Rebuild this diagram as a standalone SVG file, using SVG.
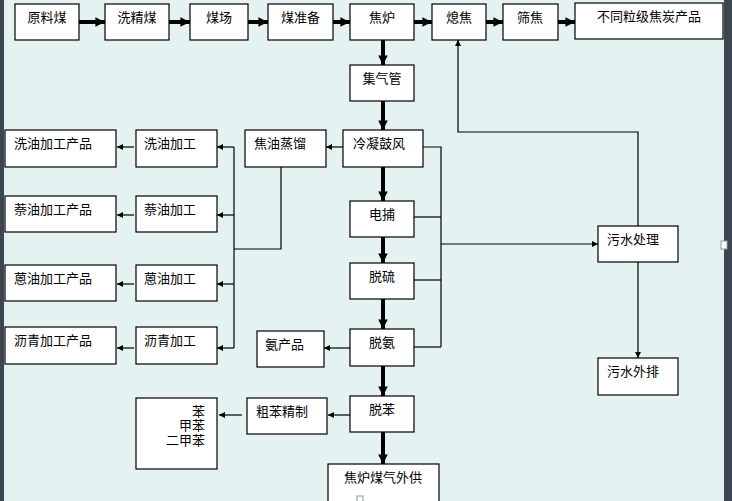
<svg xmlns="http://www.w3.org/2000/svg" width="732" height="501" viewBox="0 0 732 501">
<defs>
<style>
.box{fill:#fff;stroke:#000;stroke-width:1.2}
.t{font-family:"Liberation Sans","Noto Sans CJK SC",sans-serif;font-size:13px;fill:#000}
.c{text-anchor:middle}
.r{text-anchor:end}
.thick{stroke:#000;stroke-width:4;fill:none}
.thin{stroke:#000;stroke-width:1.2;fill:none}
</style>
<marker id="ah" viewBox="0 0 10 10" refX="10" refY="5" markerWidth="2.6" markerHeight="2.4" orient="auto" markerUnits="strokeWidth"><path d="M0,0L10,5L0,10z" fill="#000"/></marker>
<marker id="as" viewBox="0 0 10 10" refX="10" refY="5" markerWidth="7" markerHeight="6" orient="auto" markerUnits="userSpaceOnUse"><path d="M0,0L10,5L0,10z" fill="#000"/></marker>
</defs>
<rect x="0" y="0" width="732" height="501" fill="#e4f2f2"/>
<rect x="0" y="0" width="4" height="501" fill="#3c4550"/>
<rect x="724" y="0" width="8" height="501" fill="#3c4550"/>

<g id="connectors">
<!-- top row thick -->
<path class="thick" d="M79,22H105" marker-end="url(#ah)"/>
<path class="thick" d="M169,22H190" marker-end="url(#ah)"/>
<path class="thick" d="M248,22H268" marker-end="url(#ah)"/>
<path class="thick" d="M333,22H350" marker-end="url(#ah)"/>
<path class="thick" d="M414,22H432" marker-end="url(#ah)"/>
<path class="thick" d="M486,22H503" marker-end="url(#ah)"/>
<path class="thick" d="M558,22H575" marker-end="url(#ah)"/>
<!-- vertical thick -->
<path class="thick" d="M383,40V65" marker-end="url(#ah)"/>
<path class="thick" d="M383,101V130" marker-end="url(#ah)"/>
<path class="thick" d="M383,167V201" marker-end="url(#ah)"/>
<path class="thick" d="M383,237V263" marker-end="url(#ah)"/>
<path class="thick" d="M383,299V329" marker-end="url(#ah)"/>
<path class="thick" d="M383,366V396" marker-end="url(#ah)"/>
<path class="thick" d="M383,432V464" marker-end="url(#ah)"/>
<!-- thin -->
<path class="thin" d="M343,147H326" marker-end="url(#as)"/>
<path class="thin" d="M350,348H324" marker-end="url(#as)"/>
<path class="thin" d="M281,167V249H234"/>
<path class="thin" d="M234,147V348"/>
<path class="thin" d="M234,147H217" marker-end="url(#as)"/>
<path class="thin" d="M234,215H217" marker-end="url(#as)"/>
<path class="thin" d="M234,284H217" marker-end="url(#as)"/>
<path class="thin" d="M234,348H217" marker-end="url(#as)"/>
<path class="thin" d="M134,147H117" marker-end="url(#as)"/>
<path class="thin" d="M134,215H117" marker-end="url(#as)"/>
<path class="thin" d="M134,284H117" marker-end="url(#as)"/>
<path class="thin" d="M134,348H117" marker-end="url(#as)"/>
<path class="thin" d="M423,147H441V347"/>
<path class="thin" d="M414,217H441"/>
<path class="thin" d="M414,280H441"/>
<path class="thin" d="M414,347H441"/>
<path class="thin" d="M441,244H598" marker-end="url(#as)"/>
<path class="thin" d="M638,226V132H458V40" marker-end="url(#as)"/>
<path class="thin" d="M638,262V358" marker-end="url(#as)"/>
<path class="thin" d="M350,415H328" marker-end="url(#as)"/>
<path class="thin" d="M242,415H219" marker-end="url(#as)"/>
</g>

<g id="n1"><rect class="box" x="15" y="4" width="64" height="36"/><text class="t c" x="47" y="22">原料煤</text></g>
<g id="n2"><rect class="box" x="105" y="4" width="64" height="36"/><text class="t c" x="137" y="22">洗精煤</text></g>
<g id="n3"><rect class="box" x="190" y="4" width="58" height="36"/><text class="t c" x="219" y="22">煤场</text></g>
<g id="n4"><rect class="box" x="268" y="4" width="65" height="36"/><text class="t c" x="300.5" y="22">煤准备</text></g>
<g id="n5"><rect class="box" x="350" y="4" width="64" height="36"/><text class="t c" x="382" y="22">焦炉</text></g>
<g id="n6"><rect class="box" x="432" y="4" width="54" height="36"/><text class="t c" x="459" y="22">熄焦</text></g>
<g id="n7"><rect class="box" x="503" y="4" width="55" height="36"/><text class="t c" x="530" y="22">筛焦</text></g>
<g id="n8"><rect class="box" x="575" y="3" width="148" height="36"/><text class="t c" x="649" y="21">不同粒级焦炭产品</text></g>
<g id="n9"><rect class="box" x="350" y="65" width="64" height="36"/><text class="t c" x="382" y="83">集气管</text></g>
<g id="n10"><rect class="box" x="343" y="130" width="80" height="37"/><text class="t" x="353" y="148">冷凝鼓风</text></g>
<g id="n11"><rect class="box" x="245" y="130" width="81" height="37"/><text class="t" x="254" y="148">焦油蒸馏</text></g>
<g id="n12"><rect class="box" x="350" y="201" width="64" height="36"/><text class="t c" x="382" y="219">电捕</text></g>
<g id="n13"><rect class="box" x="350" y="263" width="64" height="36"/><text class="t c" x="382" y="281">脱硫</text></g>
<g id="n14"><rect class="box" x="350" y="329" width="64" height="37"/><text class="t c" x="382" y="347">脱氨</text></g>
<g id="n15"><rect class="box" x="257" y="331" width="67" height="36"/><text class="t" x="265" y="349">氨产品</text></g>
<g id="n16"><rect class="box" x="350" y="396" width="64" height="36"/><text class="t c" x="382" y="414">脱苯</text></g>
<g id="n17"><rect class="box" x="247" y="398" width="80" height="36"/><text class="t" x="256" y="416">粗苯精制</text></g>
<g id="n18"><rect class="box" x="136" y="398" width="81" height="71"/><text class="t r" x="205" y="416">苯</text><text class="t r" x="205" y="430">甲苯</text><text class="t r" x="205" y="445">二甲苯</text></g>
<g id="n19"><rect class="box" x="328" y="464" width="111" height="45"/><text class="t c" x="383" y="482">焦炉煤气外供</text><rect x="357" y="496" width="6" height="6" fill="#fff" stroke="#8a9aa8" stroke-width="1"/></g>
<g id="n20"><rect class="box" x="136" y="130" width="81" height="37"/><text class="t" x="144" y="148">洗油加工</text></g>
<g id="n21"><rect class="box" x="136" y="196" width="81" height="36"/><text class="t" x="144" y="214">萘油加工</text></g>
<g id="n22"><rect class="box" x="136" y="265" width="81" height="36"/><text class="t" x="144" y="283">蒽油加工</text></g>
<g id="n23"><rect class="box" x="136" y="327" width="81" height="37"/><text class="t" x="144" y="345">沥青加工</text></g>
<g id="n24"><rect class="box" x="5" y="130" width="111" height="37"/><text class="t" x="14" y="148">洗油加工产品</text></g>
<g id="n25"><rect class="box" x="5" y="196" width="111" height="36"/><text class="t" x="14" y="214">萘油加工产品</text></g>
<g id="n26"><rect class="box" x="5" y="265" width="111" height="36"/><text class="t" x="14" y="283">蒽油加工产品</text></g>
<g id="n27"><rect class="box" x="5" y="327" width="111" height="37"/><text class="t" x="14" y="345">沥青加工产品</text></g>
<g id="n28"><rect class="box" x="598" y="226" width="80" height="36"/><text class="t" x="607" y="244">污水处理</text></g>
<g id="n29"><rect class="box" x="598" y="358" width="80" height="37"/><text class="t" x="607" y="376">污水外排</text></g>
<rect x="721" y="241" width="6" height="8" fill="#fff" stroke="#8a9aa8" stroke-width="1"/>
</svg>
